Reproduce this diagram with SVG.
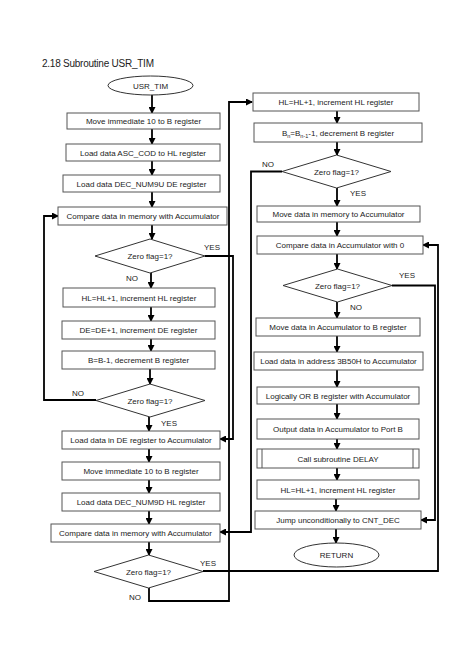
<svg xmlns="http://www.w3.org/2000/svg" width="474" height="669" viewBox="0 0 474 669">
<defs>
<marker id="ah" markerUnits="userSpaceOnUse" markerWidth="7" markerHeight="7" refX="6" refY="3.5" orient="auto">
<path d="M0,0 L7,3.5 L0,7 z" fill="#000"/>
</marker>
<style>
.box{fill:#fff;stroke:#555;stroke-width:1}
.dia{fill:#fff;stroke:#333;stroke-width:1}
.t{font-family:"Liberation Sans",Arial,sans-serif;font-size:8px;fill:#222;text-anchor:middle}
.lbl{font-family:"Liberation Sans",Arial,sans-serif;font-size:8px;fill:#222}
.c{fill:none;stroke:#000;stroke-width:1.8}
.ca{fill:none;stroke:#000;stroke-width:1.8;marker-end:url(#ah)}
</style>
</defs>
<rect width="474" height="669" fill="#fff"/>
<text x="42" y="67" font-family="Liberation Sans, Arial, sans-serif" font-size="10" fill="#222" textLength="112">2.18 Subroutine  USR_TIM</text>

<g id="connectors">
<!-- left column -->
<path class="ca" d="M152,95 V113"/>
<path class="ca" d="M152,129 V144"/>
<path class="ca" d="M152,161 V175"/>
<path class="ca" d="M152,192 V207"/>
<path class="ca" d="M152,224 V239"/>
<path class="ca" d="M151,273 V288"/>
<path class="ca" d="M151,307 V321"/>
<path class="ca" d="M151,339 V351"/>
<path class="ca" d="M150,369 V384"/>
<path class="ca" d="M149,417 V431"/>
<path class="ca" d="M149,449 V462"/>
<path class="ca" d="M149,480 V493"/>
<path class="ca" d="M149,511 V524"/>
<path class="ca" d="M149,542 V555"/>
<!-- loops -->
<path class="ca" d="M149,588 V601 H229 V102 H252"/>
<path class="ca" d="M205,256 H233 V439 H220"/>
<path class="ca" d="M96,400 H44 V216 H58"/>
<path class="ca" d="M203,571 H438 V245 H423"/>
<!-- right column -->
<path class="ca" d="M337,111 V123"/>
<path class="ca" d="M337,142 V155"/>
<path class="ca" d="M337,188 V206"/>
<path class="ca" d="M337,222 V236"/>
<path class="ca" d="M337,254 V269"/>
<path class="ca" d="M337,302 V318"/>
<path class="ca" d="M337,336 V352"/>
<path class="ca" d="M337,370 V387"/>
<path class="ca" d="M337,404 V419"/>
<path class="ca" d="M337,439 V449"/>
<path class="ca" d="M337,468 V480"/>
<path class="ca" d="M336,499 V511"/>
<path class="ca" d="M336,529 V543"/>
<path class="ca" d="M282,171.5 H251 V532 H220"/>
<path class="ca" d="M392,285.5 H435 V520 H421"/>
</g>

<g id="start">
<ellipse cx="150.5" cy="85.5" rx="42.5" ry="9.5" fill="#fff" stroke="#333" stroke-width="1"/>
<text class="t" x="150.5" y="88.5">USR_TIM</text>
</g>
<g id="n1"><rect class="box" x="67" y="113" width="153" height="16"/><text class="t" x="143.5" y="124">Move immediate 10 to B register</text></g>
<g id="n2"><rect class="box" x="66" y="144" width="154" height="17"/><text class="t" x="143" y="155.5">Load data ASC_COD to HL register</text></g>
<g id="n3"><rect class="box" x="63" y="175" width="157" height="17"/><text class="t" x="141.5" y="186.5">Load data DEC_NUM9U DE register</text></g>
<g id="n4"><rect class="box" x="58" y="207" width="169" height="18"/><text class="t" x="143" y="219">Compare data in memory with Accumulator</text></g>
<g id="d1"><polygon class="dia" points="95,256 150,239 205,256 150,273"/><text class="t" x="150" y="259">Zero flag=1?</text>
<text class="lbl" x="204" y="250">YES</text><text class="lbl" x="126" y="281">NO</text></g>
<g id="n5"><rect class="box" x="63" y="288" width="152" height="19"/><text class="t" x="139" y="300.5">HL=HL+1, increment HL register</text></g>
<g id="n6"><rect class="box" x="62" y="321" width="153" height="18"/><text class="t" x="138.5" y="333">DE=DE+1, increment DE register</text></g>
<g id="n7"><rect class="box" x="62" y="351" width="153" height="18"/><text class="t" x="138.5" y="363">B=B-1, decrement B register</text></g>
<g id="d2"><polygon class="dia" points="96,400.5 150,384 205,400.5 150,417"/><text class="t" x="150" y="403.5">Zero flag=1?</text>
<text class="lbl" x="72" y="396">NO</text><text class="lbl" x="161" y="426">YES</text></g>
<g id="n8"><rect class="box" x="62" y="431" width="158" height="18"/><text class="t" x="141" y="443">Load data in DE register to Accumulator</text></g>
<g id="n9"><rect class="box" x="62" y="462" width="158" height="18"/><text class="t" x="141" y="474">Move immediate 10 to B register</text></g>
<g id="n10"><rect class="box" x="62" y="493" width="158" height="18"/><text class="t" x="141" y="505">Load data DEC_NUM9D HL register</text></g>
<g id="n11"><rect class="box" x="51" y="524" width="169" height="18"/><text class="t" x="135.5" y="536">Compare data in memory with Accumulator</text></g>
<g id="d3"><polygon class="dia" points="94,571.5 148.5,555 203,571.5 148.5,588"/><text class="t" x="148.5" y="574.5">Zero flag=1?</text>
<text class="lbl" x="200" y="566">YES</text><text class="lbl" x="129" y="600">NO</text></g>

<g id="r1"><rect class="box" x="253" y="93" width="166" height="18"/><text class="t" x="336" y="105">HL=HL+1, increment HL register</text></g>
<g id="r2"><rect class="box" x="254" y="123" width="168" height="19"/><text class="t" x="338" y="135.5">B<tspan font-size="5.5" dy="2">n</tspan><tspan dy="-2">=B</tspan><tspan font-size="5.5" dy="2">n-1</tspan><tspan dy="-2">-1, decrement B register</tspan></text></g>
<g id="rd1"><polygon class="dia" points="282,171.5 336.5,155 391,171.5 336.5,188"/><text class="t" x="336.5" y="174.5">Zero flag=1?</text>
<text class="lbl" x="262" y="167">NO</text><text class="lbl" x="350" y="196">YES</text></g>
<g id="r3"><rect class="box" x="257" y="206" width="163" height="16"/><text class="t" x="338.5" y="217">Move data in memory to Accumulator</text></g>
<g id="r4"><rect class="box" x="257" y="236" width="166" height="18"/><text class="t" x="340" y="248">Compare data in Accumulator with 0</text></g>
<g id="rd2"><polygon class="dia" points="283,285.5 337.5,269 392,285.5 337.5,302"/><text class="t" x="337.5" y="288.5">Zero flag=1?</text>
<text class="lbl" x="399" y="278">YES</text><text class="lbl" x="350" y="310">NO</text></g>
<g id="r5"><rect class="box" x="256" y="318" width="164" height="18"/><text class="t" x="338" y="330">Move data in Accumulator to B register</text></g>
<g id="r6"><rect class="box" x="254" y="352" width="169" height="18"/><text class="t" x="338.5" y="364">Load data in address 3B50H to Accumulator</text></g>
<g id="r7"><rect class="box" x="257" y="387" width="162" height="17"/><text class="t" x="338" y="398.5">Logically OR B register with Accumulator</text></g>
<g id="r8"><rect class="box" x="257" y="419" width="162" height="20"/><text class="t" x="338" y="432">Output data in Accumulator to Port B</text></g>
<g id="r9"><rect class="box" x="257" y="449" width="162" height="19"/><line x1="262" y1="449" x2="262" y2="468" stroke="#555" stroke-width="1"/><line x1="413" y1="449" x2="413" y2="468" stroke="#555" stroke-width="1"/><text class="t" x="338" y="461.5">Call subroutine DELAY</text></g>
<g id="r10"><rect class="box" x="257" y="480" width="162" height="19"/><text class="t" x="338" y="492.5">HL=HL+1, increment HL register</text></g>
<g id="r11"><rect class="box" x="255" y="511" width="166" height="18"/><text class="t" x="338" y="523">Jump unconditionally  to CNT_DEC</text></g>
<g id="end"><ellipse cx="336.5" cy="555" rx="42.5" ry="12" fill="#fff" stroke="#333" stroke-width="1"/><text class="t" x="336.5" y="558">RETURN</text></g>
</svg>
